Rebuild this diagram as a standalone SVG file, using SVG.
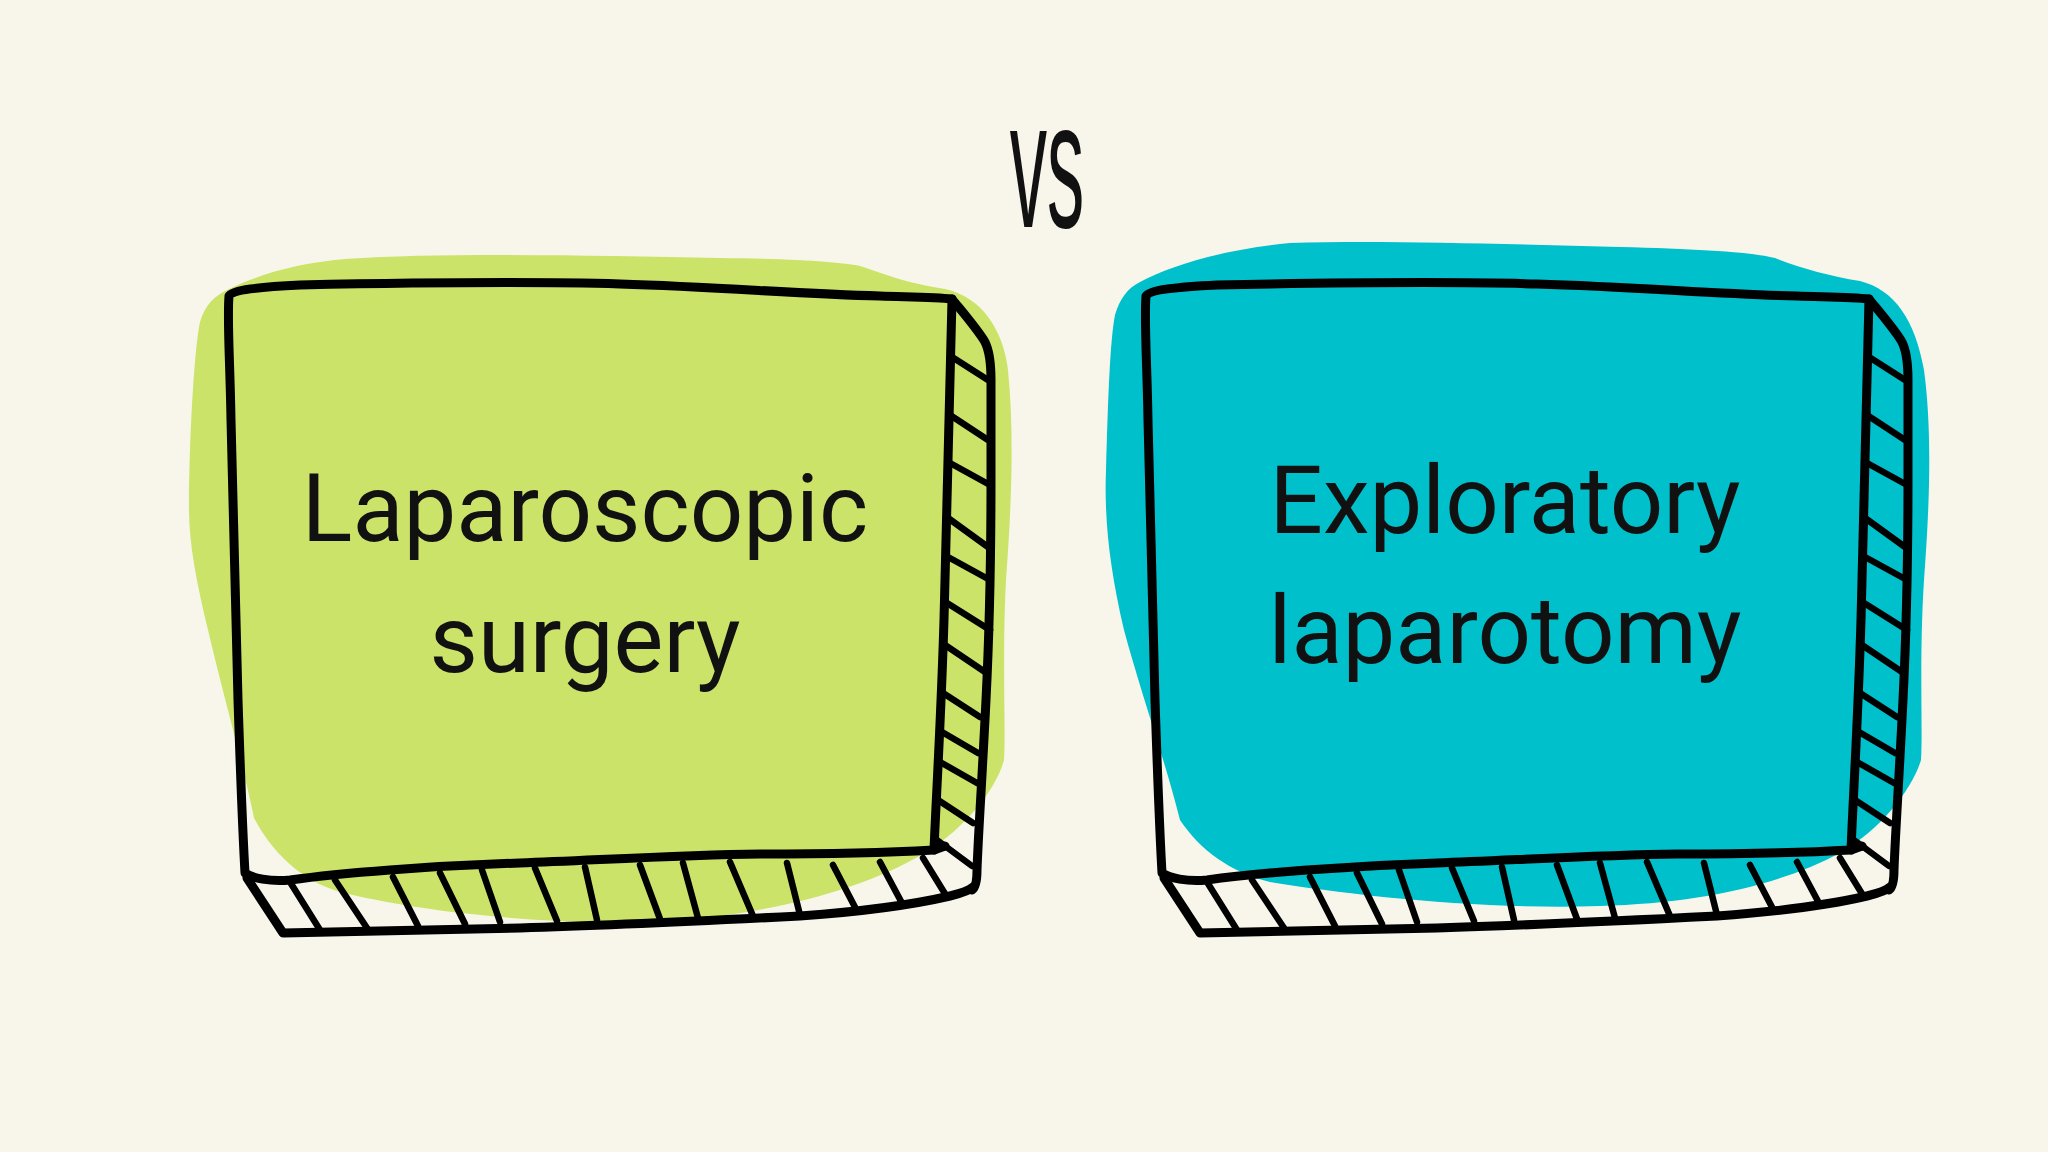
<svg xmlns="http://www.w3.org/2000/svg" xmlns:xlink="http://www.w3.org/1999/xlink" width="2048" height="1152" viewBox="0 0 2048 1152">
<style>
.bg{fill:#f8f6ea}
.ink{fill:none;stroke:#000;stroke-width:9;stroke-linecap:round;stroke-linejoin:round}
.hatch{fill:none;stroke:#000;stroke-width:6.5;stroke-linecap:round}
.label{font-family:Roboto,"Liberation Sans",sans-serif;font-size:94px;fill:#111;text-anchor:middle}
.vs{font-family:"Liberation Sans",Arial,sans-serif;font-size:182px;fill:#111;text-anchor:middle}
</style>
<defs>
<g id="sketch">
<path class="ink" d="M 229,296 C 232,290 260,287 300,285 C 400,283 520,281 620,284 C 720,287 800,294 880,296 C 910,297 935,297 952,299 C 950,400 946,520 944,620 C 941,720 936,800 934,850 C 880,853 820,854 760,854 C 680,855 600,860 520,863 C 430,866 340,873 290,880 C 270,882 252,878 245,873 C 242,820 240,760 238,700 C 236,600 233,500 231,420 C 230,360 227,320 229,296 Z"/>
<path class="ink" d="M 952,299 C 965,315 978,330 985,342 C 990,352 991,365 991,380 L 991,480 C 991,560 990,620 986,700 C 982,780 978,840 977,870 C 977,882 975,888 972,890"/>
<path class="ink" d="M 247,878 L 283,933 C 330,932 420,930 520,928 C 620,925 700,921 800,916 C 870,911 920,903 950,896 C 962,893 970,890 973,887"/>
<path class="ink" d="M 934,850 L 945,846"/>
<path class="hatch" d="M952,357 L988,380 M950,415 L988,440 M950,463 L990,485 M948,518 L988,547 M948,557 L990,580 M947,603 L990,630 M945,645 L985,672 M943,693 L980,717 M942,732 L978,753 M940,762 L977,783 M938,800 L973,823 M937,840 L972,866"/>
<path class="hatch" d="M290,882 L320,930 M335,880 L367,928 M393,877 L418,926 M440,873 L465,924 M482,870 L500,922 M535,868 L557,921 M585,867 L597,920 M640,865 L660,919 M683,863 L698,918 M730,862 L753,916 M787,863 L800,915 M833,865 L857,911 M880,862 L903,905 M923,858 L947,897"/>
</g>
</defs>
<rect class="bg" x="0" y="0" width="2048" height="1152"/>
<g id="connectors"/>
<g id="node-laparoscopic">
<path fill="#cce36a" d="M 229,289 C 262,273 300,263 345,259 C 450,252 600,256 720,258 C 800,259 840,262 860,266 C 882,273 905,283 945,289 C 982,297 1003,330 1008,370 C 1014,430 1012,500 1006,580 C 1002,660 1006,730 1004,760 C 996,790 965,828 925,853 C 865,888 780,912 680,920 C 560,928 420,912 340,892 C 300,880 272,852 254,818 C 242,760 222,690 208,630 C 196,580 188,540 189,500 C 190,420 195,345 200,322 C 205,305 214,296 229,289 Z"/>
<use xlink:href="#sketch" href="#sketch"/>
<text class="label" x="585" y="541">Laparoscopic</text>
<text class="label" x="585" y="672">surgery</text>
</g>
<g id="node-exploratory">
<path fill="#00c0cc" d="M 1140,282 C 1170,266 1220,250 1290,243 C 1380,240 1500,244 1620,247 C 1700,249 1750,252 1775,258 C 1800,268 1830,276 1860,281 C 1895,290 1915,320 1924,370 C 1932,430 1930,500 1924,580 C 1919,660 1923,730 1921,760 C 1912,790 1880,830 1840,853 C 1780,885 1700,903 1600,906 C 1480,910 1350,895 1270,882 C 1230,872 1200,850 1180,820 C 1165,760 1140,690 1124,630 C 1110,570 1104,520 1106,470 C 1108,400 1110,340 1115,315 C 1120,298 1128,288 1140,282 Z"/>
<use xlink:href="#sketch" href="#sketch" transform="translate(917,0)"/>
<text class="label" x="1505" y="533">Exploratory</text>
<text class="label" x="1505" y="663">laparotomy</text>
</g>
<g id="vs-label">
<text class="vs" transform="translate(1047,227) scale(0.41,1)" x="0" y="0">vs</text>
</g>
</svg>
